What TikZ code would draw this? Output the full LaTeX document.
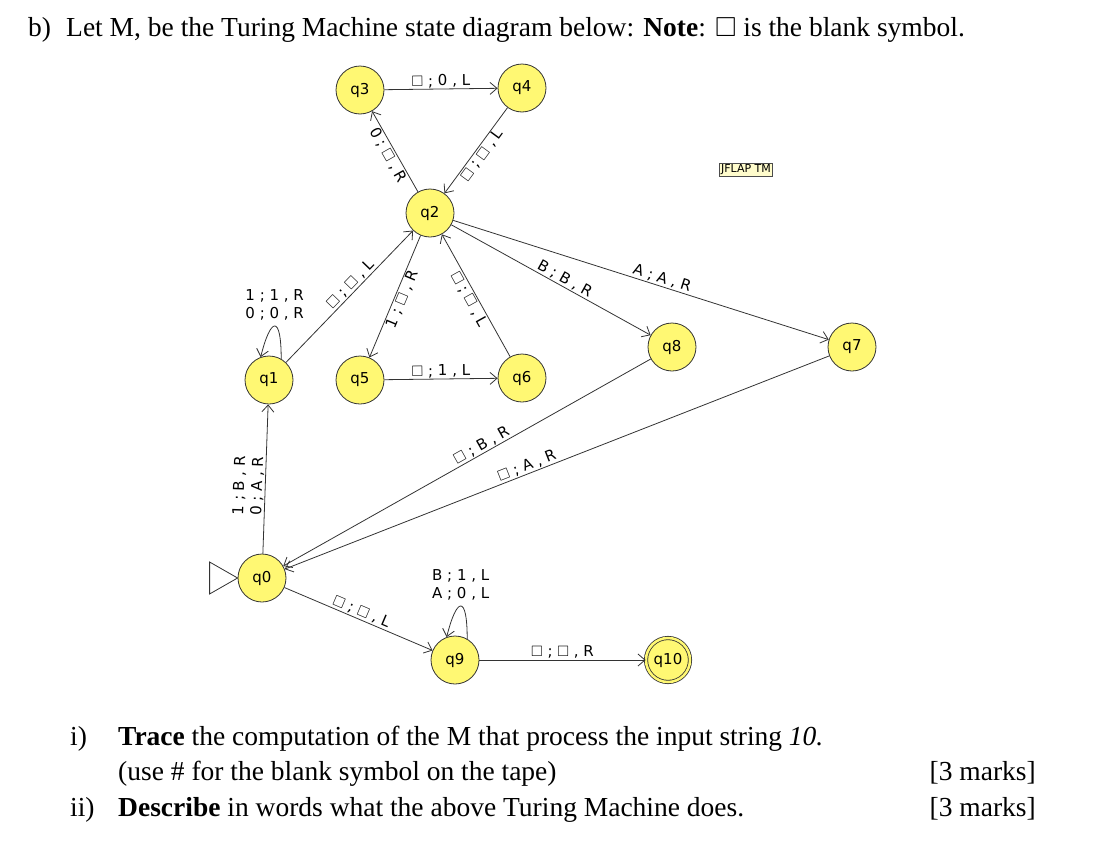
\documentclass[tikz,border=0pt]{standalone}
\usepackage{amssymb}
\usepackage{fontspec}
\setmainfont{Liberation Serif}
\newfontfamily\lab{DejaVu Sans}
\usetikzlibrary{arrows.meta}
\newcommand{\bk}{$\square$}
\begin{document}
\begin{tikzpicture}[x=1pt,y=-1pt,
 st/.style={circle,draw=black!80,line width=0.8pt,fill=yellow!55,minimum size=48pt,inner sep=0pt,font=\lab\fontsize{15}{15}\selectfont},
 ed/.style={draw=black!80,line width=0.8pt,-{Straight Barb[length=7pt,width=12pt]}},
 lb/.style={font=\lab\fontsize{15}{18}\selectfont,sloped,inner sep=1pt},
 tx/.style={font=\fontsize{27.5}{32}\selectfont,anchor=base west,inner sep=0pt}]
\useasboundingbox (0,0) rectangle (1106,846);
\node[tx] (tb) at (28,36) {b)};
\node[tx] (tt) at (66,36) {Let M, be the Turing Machine state diagram below: \textbf{Note}: $\square$ is the blank symbol.};
\node[st] (q3) at (360,90) {q3};
\node[st] (q4) at (522,88) {q4};
\node[st] (q2) at (430,213) {q2};
\node[st] (q1) at (269,380) {q1};
\node[st] (q5) at (360,380) {q5};
\node[st] (q6) at (522,378) {q6};
\node[st] (q8) at (672,347) {q8};
\node[st] (q7) at (852,347) {q7};
\node[st] (q0) at (262,578) {q0};
\node[st] (q9) at (455,660) {q9};
\node[st,double=yellow!55,double distance=2.5pt,minimum size=44pt] (q10) at (668,660) {q10};
\node[draw=black!70,fill=yellow!20,font=\lab\fontsize{11}{11}\selectfont,inner sep=1.5pt] (jf) at (746,170) {JFLAP TM};
\draw[black!80,line width=0.8pt] (q0.west) -- ++(-28,-16) -- ++(0,32) -- cycle;
\draw[ed] (q3) -- node[lb,above]{\bk\ ;\ 0\ ,\ L} (q4);
\draw[ed] (q2) -- node[lb,below]{0\ ;\ \bk\ ,\ R} (q3);
\draw[ed] (q4) -- node[lb,below]{\bk\ ;\ \bk\ ,\ L} (q2);
\draw[ed] (q1) -- node[lb,above,pos=0.55]{\bk\ ;\ \bk\ ,\ L} (q2);
\draw[ed] (q2) -- node[lb,below]{1\ ;\ \bk\ ,\ R} (q5);
\draw[ed] (q6) -- node[lb,below]{\bk\ ;\ \bk\ ,\ L} (q2);
\draw[ed] (q5) -- node[lb,above]{\bk\ ;\ 1\ ,\ L} (q6);
\draw[ed] (q2) -- node[lb,above,pos=0.55]{B\ ;\ B\ ,\ R} (q8);
\draw[ed] (q2) -- node[lb,above,pos=0.55]{A\ ;\ A\ ,\ R} (q7);
\draw[ed] (q8) -- node[lb,above,pos=0.45]{\bk\ ;\ B\ ,\ R} (q0);
\draw[ed] (q7) -- node[lb,above,pos=0.55]{\bk\ ;\ A\ ,\ R} (q0);
\draw[ed] (q0) -- node[lb,above,pos=0.45,align=center]{1\ ;\ B\ ,\ R\\0\ ;\ A\ ,\ R} (q1);
\draw[ed] (q0) -- node[lb,above]{\bk\ ;\ \bk\ ,\ L} (q9);
\draw[ed] (q9) -- node[lb,above]{\bk\ ;\ \bk\ ,\ R} (q10);
\draw[ed] (q1.60) .. controls +(0,-45) and +(10,-40) .. (q1.110) node[lb,pos=0.5,above=4pt,align=left,sloped=false]{1\ ;\ 1\ ,\ R\\0\ ;\ 0\ ,\ R};
\draw[ed] (q9.60) .. controls +(0,-45) and +(10,-40) .. (q9.110) node[lb,pos=0.5,above=4pt,align=left,sloped=false]{B\ ;\ 1\ ,\ L\\A\ ;\ 0\ ,\ L};
\node[tx] (i1) at (70,745) {i)};
\node[tx] (t1) at (118,745) {\textbf{Trace} the computation of the M that process the input string \textit{10.}};
\node[tx] (t2) at (118,780) {(use \# for the blank symbol on the tape)};
\node[tx,anchor=base east] (m1) at (1036,780) {[3 marks]};
\node[tx] (i2) at (70,816) {ii)};
\node[tx] (t3) at (118,816) {\textbf{Describe} in words what the above Turing Machine does.};
\node[tx,anchor=base east] (m2) at (1036,816) {[3 marks]};
\end{tikzpicture}
\end{document}
